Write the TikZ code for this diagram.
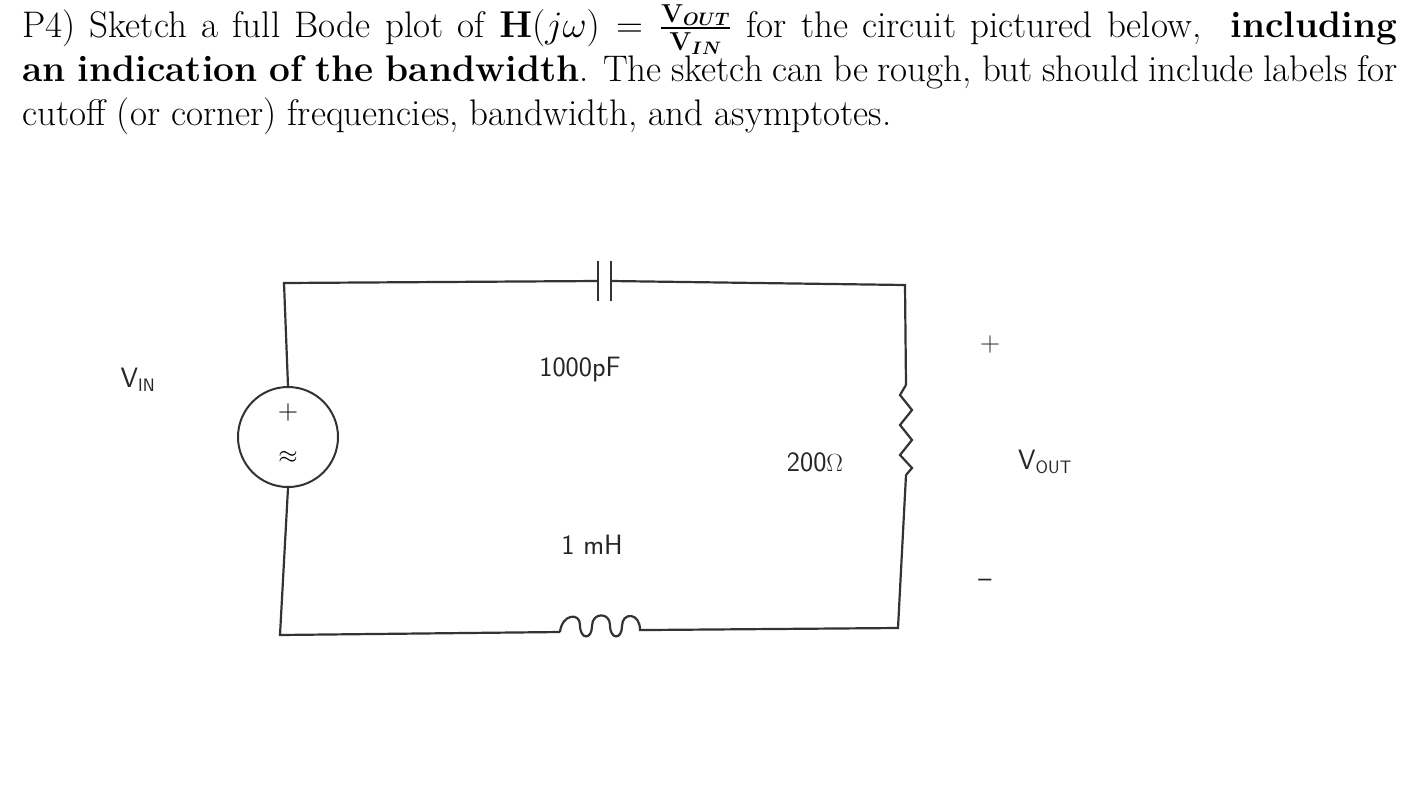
\documentclass[tikz,border=0pt]{standalone}
\usepackage{amsmath}
\begin{document}
\begin{tikzpicture}[x=1pt,y=-1pt,
  wire/.style={line width=2.2pt,draw=black!80},
  hand/.style={font=\sffamily\fontsize{28}{30}\selectfont,text=black!85}]
\useasboundingbox (0,0) rectangle (1422,796);
\fill[white] (0,0) rectangle (1422,796);
\node[anchor=north west,inner sep=0pt,scale=1.5,transform shape,text width=916.7pt,align=justify,font=\fontsize{24.67}{29.33}\selectfont] (hdr) at (22,4)
{P4) Sketch a full Bode plot of $\mathbf{H}(j\omega)=\frac{\mathbf{V}_{\boldsymbol{OUT}}}{\mathbf{V}_{\boldsymbol{IN}}}$ for the circuit pictured below, \ \textbf{including}\linebreak \textbf{an indication of the bandwidth}. The sketch can be rough, but should include labels for\linebreak cutoff (or corner) frequencies, bandwidth, and asymptotes.};
\coordinate (tl) at (284,283); \coordinate (tr) at (905,285);
\coordinate (bl) at (280,635); \coordinate (br) at (898,628);
\coordinate (c1) at (598,281); \coordinate (c2) at (611,281);
\coordinate (r1) at (906,385); \coordinate (r2) at (906,475);
\coordinate (l1) at (560,632); \coordinate (l2) at (648,630);
\node[circle,draw=black!80,line width=2pt,minimum size=100pt,inner sep=0pt] (src) at (288,437) {};
\node[font=\sffamily\fontsize{28}{28}\selectfont] (sp) at (288,413) {+};
\node[font=\sffamily\fontsize{28}{28}\selectfont] (sm) at (288,457) {$\approx$};
\draw[wire] (src.north) -- (tl) -- (c1);
\draw[wire] (c1)+(0,-20) -- +(0,20);
\draw[wire] (c2)+(0,-20) -- +(0,20);
\draw[wire] (c2) -- (tr) -- (r1);
\draw[wire] (r1) -- (900,395) -- (912,410) -- (900,425) -- (912,440) -- (900,455) -- (912,468) -- (r2);
\draw[wire] (r2) -- (br) -- (l2);
\draw[wire] (l2) -- (640,630) .. controls (640,612) and (622,612) .. (622,626) .. controls (622,640) and (610,640) .. (610,625) .. controls (610,612) and (592,612) .. (592,626) .. controls (592,640) and (580,640) .. (580,625) .. controls (580,612) and (562,614) .. (l1);
\draw[wire] (l1) -- (bl) -- (src.south);
\node[hand] (vin) at (138,380) {V\textsubscript{\fontsize{18}{18}\selectfont IN}};
\node[hand] (cap) at (580,370) {1000pF};
\node[hand] (res) at (815,462) {200$\Omega$};
\node[hand] (ind) at (592,545) {1 mH};
\node[hand] (plus) at (990,345) {+};
\node[hand] (vout) at (1045,462) {V\textsubscript{\fontsize{18}{18}\selectfont OUT}};
\node[hand] (minus) at (985,583) {--};
\end{tikzpicture}
\end{document}
